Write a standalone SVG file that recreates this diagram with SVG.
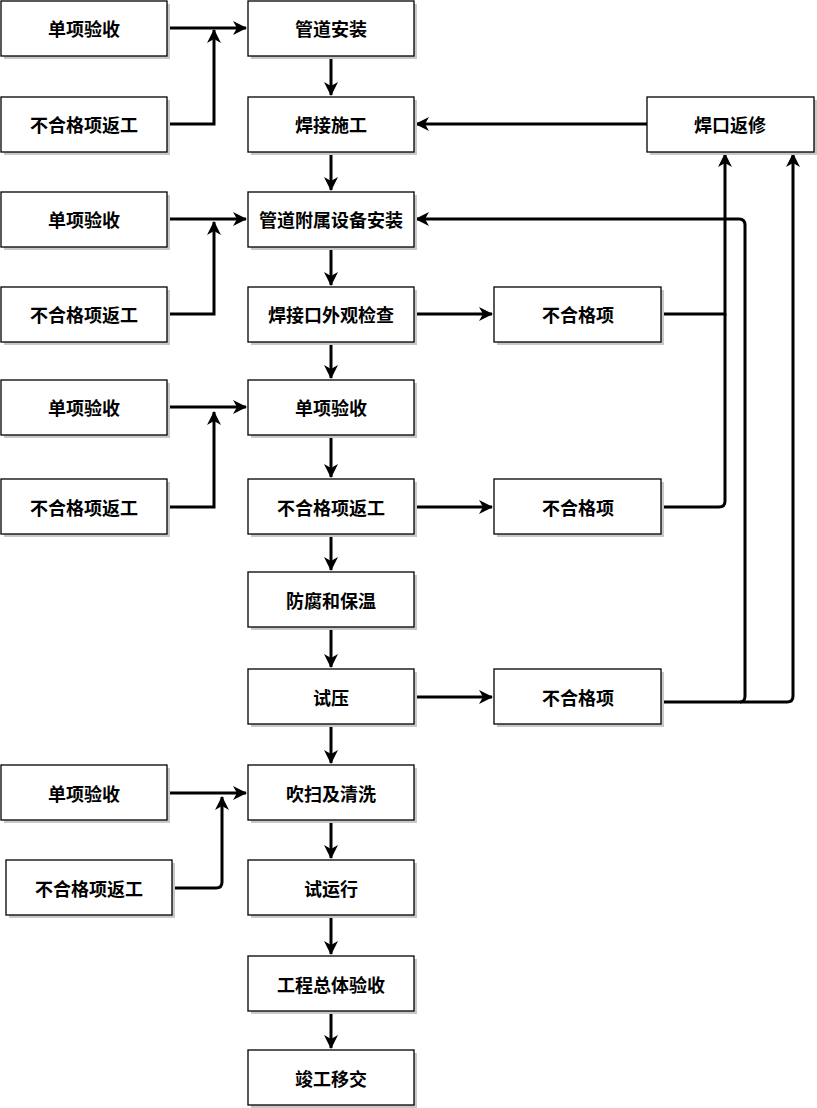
<svg xmlns="http://www.w3.org/2000/svg" width="817" height="1108" viewBox="0 0 817 1108">
<defs>
<marker id="a" viewBox="0 0 10 10" refX="9" refY="5" markerWidth="5" markerHeight="5" orient="auto-start-reverse" markerUnits="userSpaceOnUse" style="overflow:visible"><path d="M0,0 L10,5 L0,10 L3,5 Z" fill="#000" transform="scale(1.4) translate(-3,-1.4)"/></marker>
<marker id="m" viewBox="0 0 14 14" refX="13" refY="7" markerWidth="14" markerHeight="14" orient="auto" markerUnits="userSpaceOnUse"><path d="M0,0 L14,7 L0,14 L4,7 Z" fill="#000"/></marker>
</defs>
<style>
.b rect.s{fill:#c8c8c8}
.b rect.f{fill:#fff;stroke:#000;stroke-width:1.3}
.b text{font-family:"Noto Sans CJK SC",sans-serif;font-weight:bold;font-size:18px;text-anchor:middle;dominant-baseline:central}
#c path{fill:none;stroke:#000;stroke-width:3;marker-end:url(#m)}
#c path.n{marker-end:none}
</style>
<rect width="817" height="1108" fill="#fff"/>
<g id="c">
<path d="M167,28 H246"/>
<path d="M167,124 H214 V30"/>
<path d="M331,56 V95"/>
<path d="M331,152 V190"/>
<path d="M647,124 H416"/>
<path d="M167,219 H246"/>
<path d="M167,314 H214 V222"/>
<path d="M331,247 V285"/>
<path d="M414,314 H492"/>
<path d="M661,314 H725 V154"/>
<path d="M331,342 V378"/>
<path d="M167,407 H246"/>
<path d="M167,507 H214 V412"/>
<path d="M331,435 V477"/>
<path d="M414,507 H492"/>
<path class="n" d="M661,507 H719 Q725,507 725,501 V314"/>
<path d="M331,534 V570"/>
<path d="M331,627 V667"/>
<path d="M414,697 H492"/>
<path d="M661,702 H787 Q793,702 793,696 V154"/>
<path d="M740,702 Q745,702 745,696 V225 Q745,219 739,219 H416"/>
<path d="M331,724 V763"/>
<path d="M167,793 H246"/>
<path d="M172,888 H216 Q222,888 222,882 V797"/>
<path d="M331,820 V858"/>
<path d="M331,915 V954"/>
<path d="M331,1011 V1048"/>
</g>
<g id="n1" class="b"><rect class="s" x="4" y="4" width="166" height="55"/><rect class="f" x="1" y="1" width="166" height="55"/><text x="84" y="28">单项验收</text></g>
<g id="n2" class="b"><rect class="s" x="4" y="100" width="166" height="55"/><rect class="f" x="1" y="97" width="166" height="55"/><text x="84" y="124">不合格项返工</text></g>
<g id="n3" class="b"><rect class="s" x="4" y="195" width="166" height="55"/><rect class="f" x="1" y="192" width="166" height="55"/><text x="84" y="219">单项验收</text></g>
<g id="n4" class="b"><rect class="s" x="4" y="290" width="166" height="55"/><rect class="f" x="1" y="287" width="166" height="55"/><text x="84" y="314">不合格项返工</text></g>
<g id="n5" class="b"><rect class="s" x="4" y="383" width="166" height="55"/><rect class="f" x="1" y="380" width="166" height="55"/><text x="84" y="407">单项验收</text></g>
<g id="n6" class="b"><rect class="s" x="4" y="482" width="166" height="55"/><rect class="f" x="1" y="479" width="166" height="55"/><text x="84" y="507">不合格项返工</text></g>
<g id="n7" class="b"><rect class="s" x="4" y="768" width="166" height="55"/><rect class="f" x="1" y="765" width="166" height="55"/><text x="84" y="793">单项验收</text></g>
<g id="n8" class="b"><rect class="s" x="9" y="863" width="166" height="55"/><rect class="f" x="6" y="860" width="166" height="55"/><text x="89" y="888">不合格项返工</text></g>
<g id="m1" class="b"><rect class="s" x="251" y="4" width="166" height="55"/><rect class="f" x="248" y="1" width="166" height="55"/><text x="331" y="28">管道安装</text></g>
<g id="m2" class="b"><rect class="s" x="251" y="100" width="166" height="55"/><rect class="f" x="248" y="97" width="166" height="55"/><text x="331" y="124">焊接施工</text></g>
<g id="m3" class="b"><rect class="s" x="251" y="195" width="166" height="55"/><rect class="f" x="248" y="192" width="166" height="55"/><text x="331" y="219">管道附属设备安装</text></g>
<g id="m4" class="b"><rect class="s" x="251" y="290" width="166" height="55"/><rect class="f" x="248" y="287" width="166" height="55"/><text x="331" y="314">焊接口外观检查</text></g>
<g id="m5" class="b"><rect class="s" x="251" y="383" width="166" height="55"/><rect class="f" x="248" y="380" width="166" height="55"/><text x="331" y="407">单项验收</text></g>
<g id="m6" class="b"><rect class="s" x="251" y="482" width="166" height="55"/><rect class="f" x="248" y="479" width="166" height="55"/><text x="331" y="507">不合格项返工</text></g>
<g id="m7" class="b"><rect class="s" x="251" y="575" width="166" height="55"/><rect class="f" x="248" y="572" width="166" height="55"/><text x="331" y="600">防腐和保温</text></g>
<g id="m8" class="b"><rect class="s" x="251" y="672" width="166" height="55"/><rect class="f" x="248" y="669" width="166" height="55"/><text x="331" y="697">试压</text></g>
<g id="m9" class="b"><rect class="s" x="251" y="768" width="166" height="55"/><rect class="f" x="248" y="765" width="166" height="55"/><text x="331" y="793">吹扫及清洗</text></g>
<g id="m10" class="b"><rect class="s" x="251" y="863" width="166" height="55"/><rect class="f" x="248" y="860" width="166" height="55"/><text x="331" y="888">试运行</text></g>
<g id="m11" class="b"><rect class="s" x="251" y="959" width="166" height="55"/><rect class="f" x="248" y="956" width="166" height="55"/><text x="331" y="984">工程总体验收</text></g>
<g id="m12" class="b"><rect class="s" x="251" y="1053" width="166" height="55"/><rect class="f" x="248" y="1050" width="166" height="55"/><text x="331" y="1078">竣工移交</text></g>
<g id="r1" class="b"><rect class="s" x="650" y="100" width="167" height="55"/><rect class="f" x="647" y="97" width="167" height="55"/><text x="730" y="124">焊口返修</text></g>
<g id="r2" class="b"><rect class="s" x="497" y="290" width="167" height="55"/><rect class="f" x="494" y="287" width="167" height="55"/><text x="578" y="314">不合格项</text></g>
<g id="r3" class="b"><rect class="s" x="497" y="482" width="167" height="55"/><rect class="f" x="494" y="479" width="167" height="55"/><text x="578" y="507">不合格项</text></g>
<g id="r4" class="b"><rect class="s" x="497" y="672" width="167" height="55"/><rect class="f" x="494" y="669" width="167" height="55"/><text x="578" y="697">不合格项</text></g>
</svg>
